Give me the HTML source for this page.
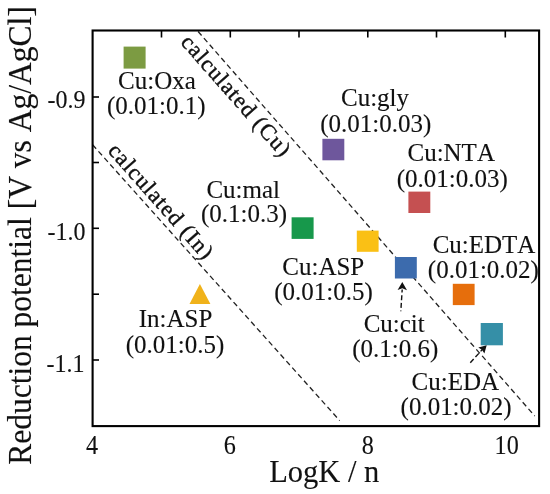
<!DOCTYPE html>
<html>
<head>
<meta charset="utf-8">
<title>Reduction potential vs LogK / n</title>
<style>
  html, body { margin: 0; padding: 0; background: #ffffff; }
  body { width: 550px; height: 494px; overflow: hidden; }
  svg { display: block; }
  text { font-family: "Liberation Serif", "Times New Roman", serif; fill: #111; stroke: #111; stroke-width: 0.12px; font-kerning: none; }
  .lab { font-size: 24.4px; text-anchor: middle; }
  .tick { font-size: 24px; }
  .axis { font-size: 32px; }
</style>
</head>
<body>
<svg width="550" height="494" viewBox="0 0 550 494">
  <rect x="0" y="0" width="550" height="494" fill="#ffffff"/>

  <!-- calculated dashed lines -->
  <g fill="none" stroke="#222" stroke-width="1.3" stroke-dasharray="5.3 3.5">
    <line x1="198.1" y1="31.5" x2="534.7" y2="416"/>
    <line x1="92.6" y1="144.8" x2="339.7" y2="420.6"/>
  </g>

  <!-- plot frame -->
  <rect x="92.6" y="30.5" width="446.5" height="395.6" fill="none" stroke="#000" stroke-width="2.1"/>

  <!-- top ticks -->
  <g stroke="#000" stroke-width="1.6">
    <line x1="161.5" y1="30.5" x2="161.5" y2="37.5"/>
    <line x1="230.3" y1="30.5" x2="230.3" y2="37.5"/>
    <line x1="299" y1="30.5" x2="299" y2="37.5"/>
    <line x1="367.8" y1="30.5" x2="367.8" y2="37.5"/>
    <line x1="436.5" y1="30.5" x2="436.5" y2="37.5"/>
    <line x1="505.3" y1="30.5" x2="505.3" y2="37.5"/>
    <!-- left ticks -->
    <line x1="92.6" y1="97" x2="99" y2="97"/>
    <line x1="92.6" y1="162.5" x2="99" y2="162.5"/>
    <line x1="92.6" y1="228.3" x2="99" y2="228.3"/>
    <line x1="92.6" y1="294.2" x2="99" y2="294.2"/>
    <line x1="92.6" y1="360" x2="99" y2="360"/>
  </g>

  <!-- y tick labels -->
  <g text-anchor="end" style="font-size:24.8px">
    <text transform="translate(85.4 108.3) scale(0.968 1)">-0.9</text>
    <text transform="translate(85.4 239.8) scale(0.968 1)">-1.0</text>
    <text transform="translate(84.5 371.5) scale(0.968 1)">-1.1</text>
  </g>
  <!-- x tick labels -->
  <g text-anchor="middle" style="font-size:26.3px">
    <text transform="translate(92 453.9) scale(0.92 1)">4</text>
    <text transform="translate(229.9 453.9) scale(0.92 1)">6</text>
    <text transform="translate(367.9 453.9) scale(0.92 1)">8</text>
    <text transform="translate(506.7 453.9) scale(0.92 1)">10</text>
  </g>

  <!-- axis titles -->
  <text class="axis" x="324.3" y="482.4" text-anchor="middle" style="font-size:30.5px">LogK / n</text>
  <text class="axis" transform="translate(31.3 464.8) rotate(-90)" textLength="458.6" lengthAdjust="spacingAndGlyphs" style="font-size:33px">Reduction potential [V vs Ag/AgCl]</text>

  <!-- markers -->
  <rect x="123.6" y="46.6" width="22" height="22" fill="#7c9b42"/>
  <rect x="322.4" y="138.8" width="21.9" height="21.5" fill="#6e579c"/>
  <rect x="408.4" y="191.6" width="21.9" height="21.4" fill="#c55051"/>
  <rect x="291.6" y="217.3" width="22" height="21.6" fill="#17984b"/>
  <rect x="356.8" y="230.6" width="21.8" height="21.2" fill="#fac015"/>
  <rect x="394.9" y="257" width="21.9" height="21.5" fill="#3c6bad"/>
  <rect x="452.8" y="283.8" width="21.8" height="21.3" fill="#e66e0c"/>
  <rect x="480.7" y="323" width="22.2" height="22.3" fill="#358fa7"/>
  <polygon points="199.9,284 210.4,304 189.5,304" fill="#f0b21a"/>

  <!-- arrows -->
  <g stroke="#111" stroke-width="1.4" fill="none" stroke-dasharray="5 2.7">
    <line x1="402.2" y1="289.5" x2="400.8" y2="311.3" stroke-dashoffset="2"/>
    <line x1="470.3" y1="362.8" x2="482.3" y2="349.5"/>
  </g>
  <polygon points="402.3,282 407,290.3 402.3,288.3 397.6,290" fill="#111"/>
  <polygon points="486.7,345.2 484.4,353.5 481.9,349.8 478.3,347.6" fill="#111"/>

  <!-- data labels -->
  <g class="lab">
    <text transform="translate(157.0 88.5) scale(1.025 1)">Cu:Oxa</text>
    <text transform="translate(156.3 114.3) scale(1.025 1)">(0.01:0.1)</text>

    <text transform="translate(375.0 105.7) scale(1.025 1)">Cu:gly</text>
    <text transform="translate(375.8 132.0) scale(1.025 1)">(0.01:0.03)</text>

    <text transform="translate(451.2 160.6) scale(1.025 1)">Cu:NTA</text>
    <text transform="translate(452.2 186.6) scale(1.025 1)">(0.01:0.03)</text>

    <text transform="translate(243.2 197.6) scale(1.025 1)">Cu:mal</text>
    <text transform="translate(244.0 222.3) scale(1.025 1)">(0.1:0.3)</text>

    <text transform="translate(323.3 274.5) scale(1.025 1)">Cu:ASP</text>
    <text transform="translate(323.5 300.2) scale(1.025 1)">(0.01:0.5)</text>

    <text transform="translate(484.0 253.2) scale(1.025 1)">Cu:EDTA</text>
    <text transform="translate(483.4 278.2) scale(1.025 1)">(0.01:0.02)</text>

    <text transform="translate(394.2 332.0) scale(1.025 1)">Cu:cit</text>
    <text transform="translate(395.2 356.7) scale(1.025 1)">(0.1:0.6)</text>

    <text transform="translate(455.3 390.0) scale(1.025 1)">Cu:EDA</text>
    <text transform="translate(456.1 415.2) scale(1.025 1)">(0.01:0.02)</text>

    <text transform="translate(175.5 326.6) scale(1.025 1)">In:ASP</text>
    <text transform="translate(175.0 352.9) scale(1.025 1)">(0.01:0.5)</text>
  </g>

  <!-- rotated line labels -->
  <text transform="translate(179.8 42.8) rotate(48.6)" style="font-size:22.5px;letter-spacing:1.1px;stroke-width:0.4px">calculated (Cu)</text>
  <text transform="translate(107 151.3) rotate(48.5)" style="font-size:22.5px;letter-spacing:1.1px;stroke-width:0.4px">calculated (In)</text>
</svg>
</body>
</html>
